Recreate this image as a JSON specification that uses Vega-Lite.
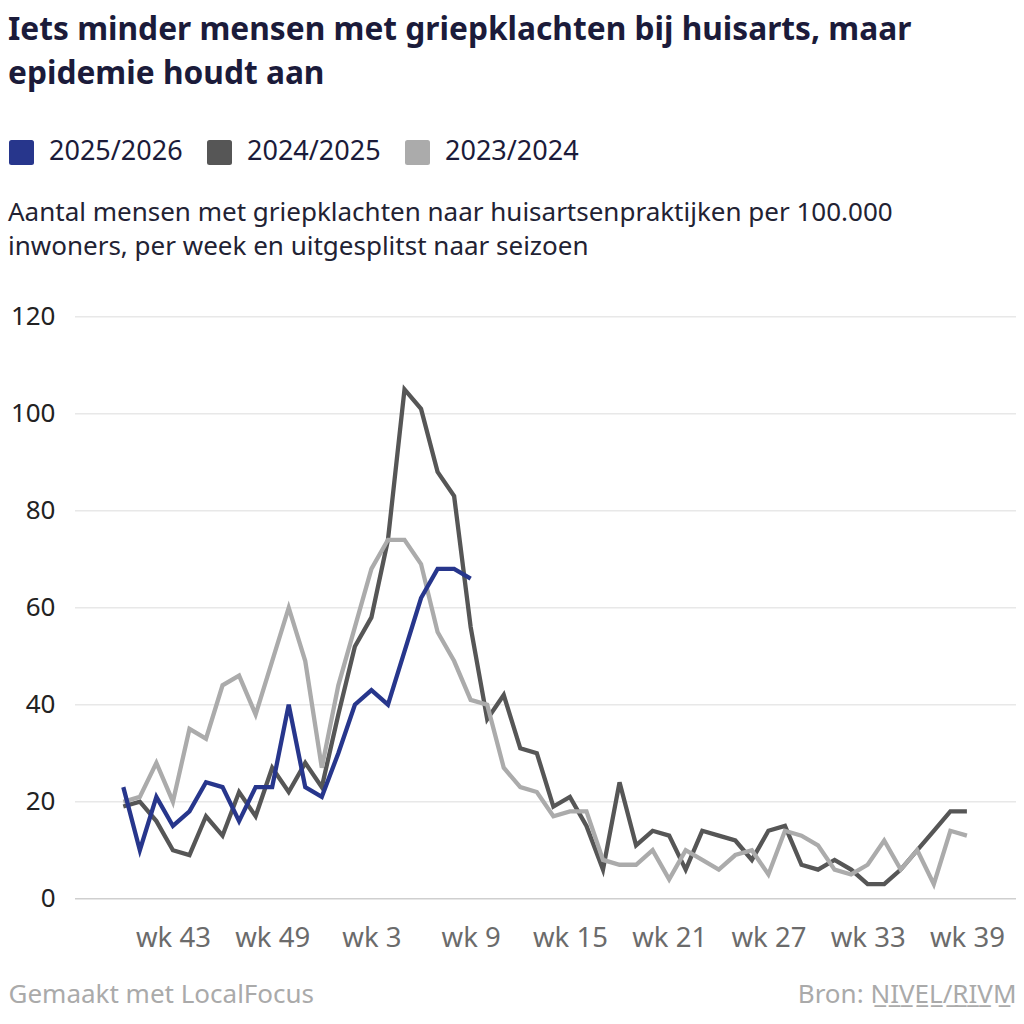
{
  "$schema": "https://vega.github.io/schema/vega-lite/v6.json",
  "width": 941,
  "height": 582,
  "autosize": {"type": "none"},
  "padding": {"left": 75, "top": 316.7, "right": 8, "bottom": 125.3},
  "background": "white",
  "config": {"view": {"stroke": null}},
  "title": {
    "text": ["Iets minder mensen met griepklachten bij huisarts, maar", "epidemie houdt aan"],
    "subtitle": ["Aantal mensen met griepklachten naar huisartsenpraktijken per 100.000", "inwoners, per week en uitgesplitst naar seizoen"],
    "anchor": "start",
    "frame": "group",
    "orient": "top",
    "dx": -67,
    "offset": -121,
    "font": "Noto Sans",
    "fontSize": 31.7,
    "fontWeight": "bold",
    "color": "#1b1b3a",
    "lineHeight": 44,
    "subtitleFont": "Noto Sans",
    "subtitleFontSize": 26,
    "subtitleColor": "#222233",
    "subtitleLineHeight": 34,
    "subtitlePadding": 109
  },
  "layer": [
    {
      "data": {"values": [{"value": 0}, {"value": 20}, {"value": 40}, {"value": 60}, {"value": 80}, {"value": 100}, {"value": 120}]},
      "mark": {"type": "rule", "strokeWidth": 1.5},
      "encoding": {
        "y": {
          "field": "value",
          "type": "quantitative",
          "scale": {"domain": [0, 120], "nice": false},
          "axis": {
            "values": [0, 20, 40, 60, 80, 100, 120],
            "domain": false,
            "ticks": false,
            "grid": false,
            "labelFont": "Noto Sans",
            "labelFontSize": 26,
            "labelColor": "#222222",
            "labelPadding": 20,
            "title": "Bron: N̲I̲V̲E̲L̲/̲R̲I̲V̲M̲",
            "titleAngle": 0,
            "titleX": 941,
            "titleY": 686,
            "titleAlign": "right",
            "titleBaseline": "alphabetic",
            "titleFont": "Noto Sans",
            "titleFontSize": 26,
            "titleFontWeight": "normal",
            "titleColor": "#aaaaaa"
          }
        },
        "stroke": {"condition": {"test": "datum.value === 0", "value": "#cfcfcf"}, "value": "#e8e8e8"}
      }
    },
    {
      "data": {
        "values": [
          {"week": "wk 40", "2025/2026": 23, "2024/2025": 19, "2023/2024": 20},
          {"week": "wk 41", "2025/2026": 10, "2024/2025": 20, "2023/2024": 21},
          {"week": "wk 42", "2025/2026": 21, "2024/2025": 16, "2023/2024": 28},
          {"week": "wk 43", "2025/2026": 15, "2024/2025": 10, "2023/2024": 20},
          {"week": "wk 44", "2025/2026": 18, "2024/2025": 9, "2023/2024": 35},
          {"week": "wk 45", "2025/2026": 24, "2024/2025": 17, "2023/2024": 33},
          {"week": "wk 46", "2025/2026": 23, "2024/2025": 13, "2023/2024": 44},
          {"week": "wk 47", "2025/2026": 16, "2024/2025": 22, "2023/2024": 46},
          {"week": "wk 48", "2025/2026": 23, "2024/2025": 17, "2023/2024": 38},
          {"week": "wk 49", "2025/2026": 23, "2024/2025": 27, "2023/2024": 49},
          {"week": "wk 50", "2025/2026": 40, "2024/2025": 22, "2023/2024": 60},
          {"week": "wk 51", "2025/2026": 23, "2024/2025": 28, "2023/2024": 49},
          {"week": "wk 52", "2025/2026": 21, "2024/2025": 23, "2023/2024": 27},
          {"week": "wk 1", "2025/2026": 30, "2024/2025": 38, "2023/2024": 44},
          {"week": "wk 2", "2025/2026": 40, "2024/2025": 52, "2023/2024": 56},
          {"week": "wk 3", "2025/2026": 43, "2024/2025": 58, "2023/2024": 68},
          {"week": "wk 4", "2025/2026": 40, "2024/2025": 74, "2023/2024": 74},
          {"week": "wk 5", "2025/2026": 51, "2024/2025": 105, "2023/2024": 74},
          {"week": "wk 6", "2025/2026": 62, "2024/2025": 101, "2023/2024": 69},
          {"week": "wk 7", "2025/2026": 68, "2024/2025": 88, "2023/2024": 55},
          {"week": "wk 8", "2025/2026": 68, "2024/2025": 83, "2023/2024": 49},
          {"week": "wk 9", "2025/2026": 66, "2024/2025": 56, "2023/2024": 41},
          {"week": "wk 10", "2024/2025": 37, "2023/2024": 40},
          {"week": "wk 11", "2024/2025": 42, "2023/2024": 27},
          {"week": "wk 12", "2024/2025": 31, "2023/2024": 23},
          {"week": "wk 13", "2024/2025": 30, "2023/2024": 22},
          {"week": "wk 14", "2024/2025": 19, "2023/2024": 17},
          {"week": "wk 15", "2024/2025": 21, "2023/2024": 18},
          {"week": "wk 16", "2024/2025": 15, "2023/2024": 18},
          {"week": "wk 17", "2024/2025": 6, "2023/2024": 8},
          {"week": "wk 18", "2024/2025": 24, "2023/2024": 7},
          {"week": "wk 19", "2024/2025": 11, "2023/2024": 7},
          {"week": "wk 20", "2024/2025": 14, "2023/2024": 10},
          {"week": "wk 21", "2024/2025": 13, "2023/2024": 4},
          {"week": "wk 22", "2024/2025": 6, "2023/2024": 10},
          {"week": "wk 23", "2024/2025": 14, "2023/2024": 8},
          {"week": "wk 24", "2024/2025": 13, "2023/2024": 6},
          {"week": "wk 25", "2024/2025": 12, "2023/2024": 9},
          {"week": "wk 26", "2024/2025": 8, "2023/2024": 10},
          {"week": "wk 27", "2024/2025": 14, "2023/2024": 5},
          {"week": "wk 28", "2024/2025": 15, "2023/2024": 14},
          {"week": "wk 29", "2024/2025": 7, "2023/2024": 13},
          {"week": "wk 30", "2024/2025": 6, "2023/2024": 11},
          {"week": "wk 31", "2024/2025": 8, "2023/2024": 6},
          {"week": "wk 32", "2024/2025": 6, "2023/2024": 5},
          {"week": "wk 33", "2024/2025": 3, "2023/2024": 7},
          {"week": "wk 34", "2024/2025": 3, "2023/2024": 12},
          {"week": "wk 35", "2024/2025": 6, "2023/2024": 6},
          {"week": "wk 36", "2024/2025": 10, "2023/2024": 10},
          {"week": "wk 37", "2024/2025": 14, "2023/2024": 3},
          {"week": "wk 38", "2024/2025": 18, "2023/2024": 14},
          {"week": "wk 39", "2024/2025": 18, "2023/2024": 13}
        ]
      },
      "transform": [
        {"fold": ["2024/2025", "2023/2024", "2025/2026"], "as": ["season", "value"]}
      ],
      "mark": {"type": "line", "strokeWidth": 4.3},
      "encoding": {
        "x": {
          "field": "week",
          "type": "ordinal",
          "sort": null,
          "scale": {"type": "point", "padding": 0, "range": [48.3, 891.9]},
          "axis": {
            "values": ["wk 43", "wk 49", "wk 3", "wk 9", "wk 15", "wk 21", "wk 27", "wk 33", "wk 39"],
            "labelAngle": 0,
            "ticks": false,
            "grid": false,
            "domain": false,
            "labelFont": "Noto Sans",
            "labelFontSize": 27.5,
            "labelColor": "#6b6b6b",
            "labelPadding": 26,
            "title": "Gemaakt met LocalFocus",
            "titleX": -67,
            "titleY": 104,
            "titleAlign": "left",
            "titleBaseline": "alphabetic",
            "titleFont": "Noto Sans",
            "titleFontSize": 26,
            "titleFontWeight": "normal",
            "titleColor": "#aaaaaa"
          }
        },
        "y": {
          "field": "value",
          "type": "quantitative",
          "scale": {"domain": [0, 120], "nice": false},
          "axis": {
            "values": [0, 20, 40, 60, 80, 100, 120],
            "domain": false,
            "ticks": false,
            "grid": false,
            "labelFont": "Noto Sans",
            "labelFontSize": 26,
            "labelColor": "#222222",
            "labelPadding": 20,
            "title": "Bron: N̲I̲V̲E̲L̲/̲R̲I̲V̲M̲",
            "titleAngle": 0,
            "titleX": 941,
            "titleY": 686,
            "titleAlign": "right",
            "titleBaseline": "alphabetic",
            "titleFont": "Noto Sans",
            "titleFontSize": 26,
            "titleFontWeight": "normal",
            "titleColor": "#aaaaaa"
          }
        },
        "color": {
          "field": "season",
          "type": "nominal",
          "scale": {"domain": ["2025/2026", "2024/2025", "2023/2024"], "range": ["#27368c", "#565656", "#ababab"]},
          "legend": {
            "orient": "none",
            "legendX": -67,
            "legendY": -178,
            "direction": "horizontal",
            "title": null,
            "padding": 0,
            "symbolType": "M-0.8,-1H0.8Q1,-1 1,-0.8V0.8Q1,1 0.8,1H-0.8Q-1,1 -1,0.8V-0.8Q-1,-1 -0.8,-1Z",
            "symbolSize": 625,
            "symbolStrokeWidth": 0,
            "labelFont": "Noto Sans",
            "labelFontSize": 27,
            "labelColor": "#1b1b3a",
            "labelOffset": 14,
            "columnPadding": 23,
            "encode": {"symbols": {"update": {"fill": {"scale": "color", "field": "value"}, "fillOpacity": {"value": 1}, "strokeWidth": {"value": 0}}}}
          }
        }
      }
    }
  ]
}
